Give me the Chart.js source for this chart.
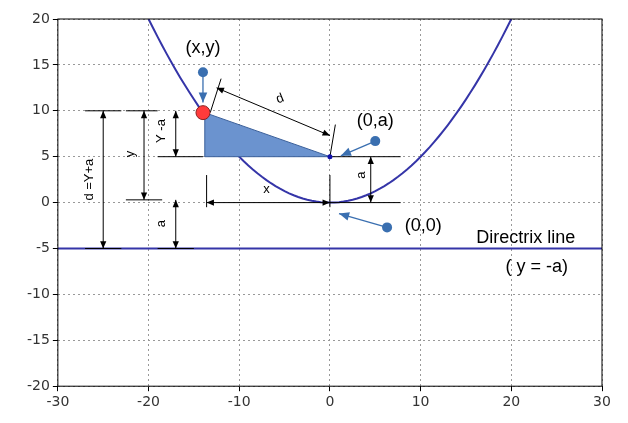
<!DOCTYPE html>
<html><head><meta charset="utf-8">
<script src="https://cdn.jsdelivr.net/npm/chart.js@4"></script>
<style>body{margin:0;background:#fff}#w{width:628px;height:423px}</style>
</head><body><div id="w"><canvas id="c"></canvas></div>
<script>
const A = 5;
const parabolaX = [];
for (let i = -20; i <= 20; i += 0.5) parabolaX.push(i);
const parabolaY = parabolaX.map(x => x * x / (4 * A));
const directrixX = [-30, 30];
const directrixY = [-A, -A];
const pointXY = [-14, 9.8];
const focusXY = [0, A];
const triangle = [[-13.8, 9.8], [-13.8, 5], [0, 5]];
const dimLines = [[-25, 10, -25, -5], [-20.5, 10, -20.5, 0.3], [-17, 10, -17, 5], [-17, 0.3, -17, -5],
  [-13.6, 0, 0, 0], [4.5, 5, 4.5, 0], [-12.5, 12.5, 0, 7.3]];
const tickLines = [[-27, 10, -23, 10], [-27, -5, -23, -5], [-22.5, 10, -19, 10], [-22.5, 0.3, -18.5, 0.3],
  [-19, 5, -14, 5], [-19, -5, -15, -5], [-13.6, 3, -13.6, -0.5], [0, 3, 0, -0.5],
  [0, 5, 7.8, 5], [0, 0, 7.8, 0], [-13.2, 9.8, -12, 13.5], [0, 5, 0.6, 8.5]];
const markers = [[-14, 14.2, -14, 10.9], [5, 6.7, 1.2, 5.1], [6.3, -2.7, 1, -1.2]];
const labels = [["(x,y)", -14, 16.8, 18, 0], ["(0,a)", 5, 8.9, 18, 0], ["(0,0)", 10.3, -2.5, 18, 0],
  ["Directrix line", 21.6, -3.9, 18, 0], ["( y = -a)", 22.8, -7, 18, 0],
  ["d", -5.5, 11.3, 13, -0.38], ["x", -7, 1.4, 13, 0], ["a", 3.5, 3, 13, -Math.PI/2],
  ["y", -22, 5.3, 13, -Math.PI/2], ["Y -a", -18.6, 7.8, 13, -Math.PI/2], ["a", -18.6, -2.3, 13, -Math.PI/2],
  ["d =Y+a", -26.5, 2.5, 13, -Math.PI/2]];

function arrowHead(ctx, x1, y1, x2, y2, size) {
  const ang = Math.atan2(y2 - y1, x2 - x1);
  ctx.beginPath();
  ctx.moveTo(x2, y2);
  ctx.lineTo(x2 - size * Math.cos(ang - 0.4), y2 - size * Math.sin(ang - 0.4));
  ctx.lineTo(x2 - size * Math.cos(ang + 0.4), y2 - size * Math.sin(ang + 0.4));
  ctx.closePath(); ctx.fill();
}
const deco = {
  id: 'deco',
  afterDatasetsDraw(chart) {
    const ctx = chart.ctx, xs = chart.scales.x, ys = chart.scales.y;
    const X = v => xs.getPixelForValue(v), Y = v => ys.getPixelForValue(v);
    ctx.save();
    ctx.fillStyle = '#6b93cf'; ctx.strokeStyle = '#3a5f9a'; ctx.lineWidth = 1;
    ctx.beginPath(); triangle.forEach((p, i) => i ? ctx.lineTo(X(p[0]), Y(p[1])) : ctx.moveTo(X(p[0]), Y(p[1])));
    ctx.closePath(); ctx.fill(); ctx.stroke();
    ctx.strokeStyle = '#000'; ctx.fillStyle = '#000'; ctx.lineWidth = 1;
    tickLines.forEach(l => { ctx.beginPath(); ctx.moveTo(X(l[0]), Y(l[1])); ctx.lineTo(X(l[2]), Y(l[3])); ctx.stroke(); });
    dimLines.forEach(l => {
      const a = X(l[0]), b = Y(l[1]), c = X(l[2]), d = Y(l[3]);
      ctx.beginPath(); ctx.moveTo(a, b); ctx.lineTo(c, d); ctx.stroke();
      arrowHead(ctx, a, b, c, d, 8); arrowHead(ctx, c, d, a, b, 8);
    });
    ctx.strokeStyle = '#3a6fb0'; ctx.fillStyle = '#3a6fb0'; ctx.lineWidth = 1.3;
    markers.forEach(m => {
      const a = X(m[0]), b = Y(m[1]), c = X(m[2]), d = Y(m[3]);
      ctx.beginPath(); ctx.moveTo(a, b); ctx.lineTo(c, d); ctx.stroke();
      arrowHead(ctx, a, b, c, d, 11);
      ctx.beginPath(); ctx.arc(a, b, 5, 0, Math.PI * 2); ctx.fill();
    });
    ctx.fillStyle = '#ff3b3b'; ctx.strokeStyle = '#8a2020'; ctx.lineWidth = 1;
    ctx.beginPath(); ctx.arc(X(pointXY[0]), Y(pointXY[1]), 7, 0, Math.PI * 2); ctx.fill(); ctx.stroke();
    ctx.fillStyle = '#1010aa';
    ctx.beginPath(); ctx.arc(X(focusXY[0]), Y(focusXY[1]), 2.5, 0, Math.PI * 2); ctx.fill();
    ctx.fillStyle = '#000'; ctx.textAlign = 'center'; ctx.textBaseline = 'middle';
    labels.forEach(t => {
      ctx.save(); ctx.translate(X(t[1]), Y(t[2])); ctx.rotate(t[4]);
      ctx.font = t[3] + 'px "Liberation Sans", Arial, sans-serif';
      ctx.fillText(t[0], 0, 0); ctx.restore();
    });
    ctx.strokeStyle = '#000'; ctx.lineWidth = 1;
    ctx.strokeRect(xs.left, ys.top, xs.right - xs.left, ys.bottom - ys.top);
    ctx.restore();
  }
};
new Chart(document.getElementById('c'), {
  type: 'scatter',
  data: { datasets: [
    { data: parabolaX.map((x, i) => ({ x, y: parabolaY[i] })), showLine: true, borderColor: '#3535a8', borderWidth: 2, pointRadius: 0 },
    { data: directrixX.map((x, i) => ({ x, y: directrixY[i] })), showLine: true, borderColor: '#3535a8', borderWidth: 2, pointRadius: 0 }
  ]},
  options: {
    responsive: true, maintainAspectRatio: false, animation: false,
    layout: { padding: { left: 24, right: 26, top: 19, bottom: 9 } },
    plugins: { legend: { display: false }, tooltip: { enabled: false } },
    scales: {
      x: { type: 'linear', min: -30, max: 30, ticks: { stepSize: 10, color: '#333', font: { size: 14, family: 'DejaVu Sans' } },
        grid: { color: '#999', tickColor: '#000', tickLength: 5 }, border: { display: false, dash: [2, 3] } },
      y: { type: 'linear', min: -20, max: 20, ticks: { stepSize: 5, color: '#333', font: { size: 14, family: 'DejaVu Sans' } },
        grid: { color: '#999', tickColor: '#000', tickLength: 5 }, border: { display: false, dash: [2, 3] } }
    }
  },
  plugins: [deco]
});
</script></body></html>
